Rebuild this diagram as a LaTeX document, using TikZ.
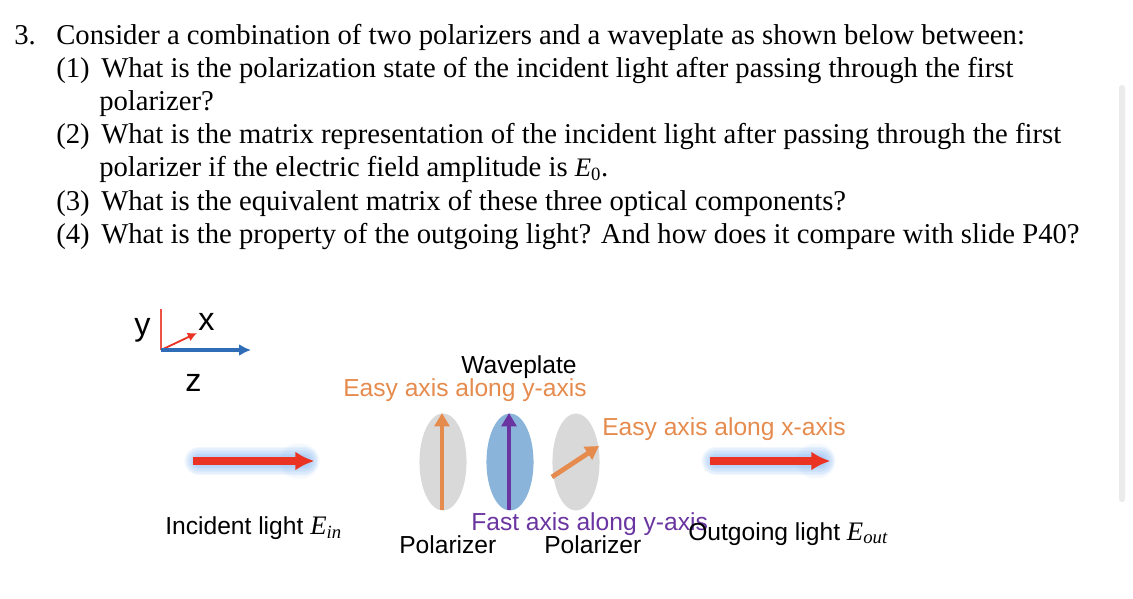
\documentclass[tikz,border=0pt]{standalone}
\usepackage{fontspec}
\setmainfont{Liberation Serif}
\setsansfont{Liberation Sans}
\usetikzlibrary{arrows.meta}
\usetikzlibrary{shapes.geometric}
\definecolor{easyorange}{HTML}{E58B4D}
\definecolor{fastpurple}{HTML}{6A35A0}
\definecolor{plateblue}{HTML}{8BB4DA}
\definecolor{plategray}{HTML}{D9D9D9}
\definecolor{rayred}{HTML}{EA3323}
\definecolor{axisblue}{HTML}{2F6DB8}
\definecolor{glowblue}{HTML}{6FA8EE}
\tikzset{
  line/.style={anchor=base west,inner sep=0pt,font=\fontsize{20.4}{22}\selectfont},
  label/.style={anchor=base west,inner sep=0pt,font=\sffamily\fontsize{17.5}{20}\selectfont},
  axislabel/.style={label,font=\sffamily\fontsize{23}{26}\selectfont},
  plate/.style={ellipse,minimum width=33.5pt,minimum height=69pt,inner sep=0pt,fill=plategray},
  ray/.style={rayred,line width=5pt,-{Latex[length=13.5pt,width=13.5pt,sep=-1pt]}},
  glow/.style={glowblue,opacity=.09,line cap=round},
  axisarrow/.style={line width=3.4pt,-{Triangle[length=9.5pt,width=10.5pt]}}
}
\newcommand{\mathvar}[2]{{\rmfamily\itshape\fontsize{19}{20}\selectfont #1\textsubscript{#2}}}
% one light ray with a soft halo
\newcommand{\glowray}[2]{
  \foreach \w in {20,18,16,14,12,10,8,6}
    \draw[glow,line width=\w pt,shorten <=4pt,shorten >=6pt] (#1) -- (#2);
  \foreach \w in {26,24,22}
    \draw[glow,opacity=.035,line width=\w pt,shorten <=74pt,shorten >=8pt] (#1) -- (#2);
  \draw[ray] (#1) -- (#2);
}
\begin{document}
\begin{tikzpicture}[x=.025cm,y=-.025cm]
  \useasboundingbox (0,0) rectangle (1133,599);
  \fill[black!8,rounded corners=2pt] (1119,85) rectangle (1125,502);

  \node[line] (num) at (14,44) {3.};
  \node[line] (q) at (56,44) {Consider a combination of two polarizers and a waveplate as shown below between:};
  \node[line] (n1) at (56,77) {(1)};
  \node[line] (a1) at (101,77) {What is the polarization state of the incident light after passing through the first};
  \node[line] (a1b) at (99,110) {polarizer?};
  \node[line] (n2) at (56,143) {(2)};
  \node[line] (a2) at (101,143) {What is the matrix representation of the incident light after passing through the first};
  \node[line] (a2b) at (99,176) {polarizer if the electric field amplitude is \mathvar{E}{\upshape 0}.};
  \node[line] (n3) at (56,210) {(3)};
  \node[line] (a3) at (101,210) {What is the equivalent matrix of these three optical components?};
  \node[line] (n4) at (56,243) {(4)};
  \node[line] (a4) at (101,243) {What is the property of the outgoing light? And how does it compare with slide P40?};

  % axes
  \coordinate (o) at (161,350);
  \coordinate (ytip) at (161,309);
  \coordinate (xtip) at (197,333);
  \coordinate (ztip) at (251,350);
  \draw[rayred!85!white,line width=1.8pt] (o) -- (ytip);
  \draw[rayred,line width=1.3pt,-{Latex[length=6.5pt,width=6.5pt]}] (o) -- (xtip);
  \draw[axisblue,line width=2.4pt,-{Latex[length=8.5pt,width=8.5pt]}] (o) -- (ztip);
  \node[axislabel] (ylab) at (134,335) {y};
  \node[axislabel] (xlab) at (198,330) {x};
  \node[axislabel] (zlab) at (185,391) {z};

  % light rays
  \coordinate (inA) at (193,461);
  \coordinate (inB) at (313,461);
  \coordinate (outA) at (710,461);
  \coordinate (outB) at (829,461);
  \glowray{inA}{inB}
  \glowray{outA}{outB}

  % optical components
  \node[plate] (pol1) at (443,462) {};
  \node[plate,fill=plateblue] (wave) at (510,462) {};
  \node[plate] (pol2) at (576,462) {};
  \coordinate (e1) at (442,510);
  \coordinate (e2) at (442,413);
  \coordinate (f1) at (509,510);
  \coordinate (f2) at (509,413);
  \coordinate (g1) at (552,477);
  \coordinate (g2) at (599,446);
  \draw[easyorange,axisarrow] (e1) -- (e2);
  \draw[fastpurple,axisarrow] (f1) -- (f2);
  \draw[easyorange,axisarrow] (g1) -- (g2);

  \node[label] (wavelab) at (461,373) {Waveplate};
  \node[label,text=easyorange] (easyy) at (343,396) {Easy axis along y-axis};
  \node[label,text=easyorange] (easyx) at (602,435) {Easy axis along x-axis};
  \node[label,text=fastpurple] (fast) at (471,530) {Fast axis along y-axis};
  \node[label] (pol1lab) at (399,553) {Polarizer};
  \node[label] (pol2lab) at (544,553) {Polarizer};
  \node[label] (inlab) at (165,534) {Incident light \mathvar{E}{in}};
  \node[label] (outlab) at (688,540) {Outgoing light \mathvar{E}{out}};
\end{tikzpicture}
\end{document}
